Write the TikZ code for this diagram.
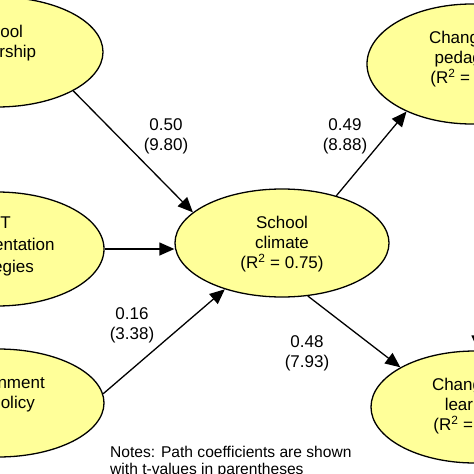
\documentclass[tikz,border=0pt]{standalone}
\usepackage{fontspec}
\setmainfont{Liberation Sans}
\usetikzlibrary{arrows.meta,shapes.geometric}
\definecolor{nodefill}{HTML}{FFFF99}
\begin{document}
\begin{tikzpicture}[x=1pt,y=-1pt,
  latent/.style={ellipse, draw=black, line width=1.3pt, fill=nodefill, inner sep=0pt},
  txt/.style={font=\fontsize{17}{20}\selectfont, align=center, inner sep=0pt},
  coef/.style={font=\fontsize{17}{20}\selectfont, align=center, inner sep=0pt},
  link/.style={line width=1.3pt, -{Triangle[length=15pt,width=13pt]}}
]
\useasboundingbox (0,0) rectangle (474,474);
\fill[white] (0,0) rectangle (474,474);
\clip (0,0) rectangle (474,474);

% latent variables
\node[latent, minimum width=212pt, minimum height=110pt] (lead) at (-3,52) {};
\node[latent, minimum width=214pt, minimum height=114pt] (ict) at (-3,249) {};
\node[latent, minimum width=212pt, minimum height=108pt] (gov) at (-2,403) {};
\node[latent, minimum width=214pt, minimum height=108pt] (clim) at (282,243) {};
\node[latent, minimum width=210pt, minimum height=120pt] (ped) at (472,64) {};
\node[latent, minimum width=208pt, minimum height=112pt] (learn) at (475,407) {};

% texts
\node[txt] (leadtxt) at (-3,43) {School\\leadership};
\node[txt, font=\fontsize{17}{22}\selectfont] (icttxt) at (-3,246) {ICT\\implementation\\strategies};
\node[txt] (govtxt) at (-2,383) {Government};
\node[txt, anchor=base east] (govtxt2) at (35,408) {policy};
\node[txt] (climtxt) at (282,244) {School\\climate\\(R\textsuperscript{2} = 0.75)};
\node[txt] (pedtxt) at (472,59) {Changes in\\pedagogy\\(R\textsuperscript{2} = \phantom{0.00)}};
\node[txt] (learntxt) at (475,406) {Changes in\\learning\\(R\textsuperscript{2} = \phantom{0.00)}};

% coefficients
\node[coef] (c1) at (166,136) {0.50\\(9.80)};
\node[coef] (c2) at (345,136) {0.49\\(8.88)};
\node[coef] (c3) at (132,325) {0.16\\(3.38)};
\node[coef] (c4) at (307,353) {0.48\\(7.93)};

\node[font=\fontsize{15.6}{17}\selectfont, align=left, inner sep=0pt, anchor=north west] (notes) at (110,445.5) {Notes: Path coefficients are shown\\with t-values in parentheses};

% connectors
\draw[link] (lead.-27) -- (clim.161);
\draw[link] (ict.east) -- (ict.east -| clim.west);
\draw[link] (gov.5) -- (clim.219);
\draw[link] (clim.41) -- (ped.216);
\draw[link] (clim.-64) -- (learn.152);
\draw[link] ([xshift=6pt]ped.south) -- ([xshift=3pt]learn.north);
\end{tikzpicture}
\end{document}
